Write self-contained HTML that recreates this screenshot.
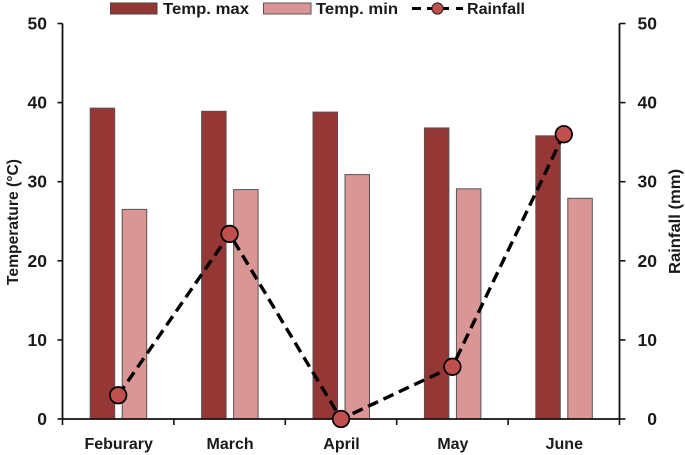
<!DOCTYPE html>
<html>
<head>
<meta charset="utf-8">
<style>
html,body{margin:0;padding:0;background:#fff;width:685px;height:455px;overflow:hidden}
svg{display:block;filter:blur(0.35px)}
text{font-family:"Liberation Sans",sans-serif;font-weight:bold;fill:#1a1a1a}
</style>
</head>
<body>
<svg id="chart" xmlns="http://www.w3.org/2000/svg" width="685" height="455" viewBox="0 0 685 455"></svg>
<script>
const categories = ["Feburary", "March", "April", "May", "June"];
const tempMax = [39.3, 38.9, 38.8, 36.8, 35.8];
const tempMin = [26.5, 29.0, 30.9, 29.1, 27.9];
const rainfall = [3.0, 23.4, 0.0, 6.6, 36.0];
const tickLabels = [0, 10, 20, 30, 40, 50];

const NS = "http://www.w3.org/2000/svg";
const svg = document.getElementById("chart");
const L = 62.5, R = 619.5, T = 23.5, B = 419;
const yMax = 50;
const y = v => B - (v / yMax) * (B - T);
const band = (R - L) / categories.length;
const xc = i => L + band * (i + 0.5);

function mk(tag, attrs, text) {
  const el = document.createElementNS(NS, tag);
  for (const k in attrs) el.setAttribute(k, attrs[k]);
  if (text !== undefined) el.textContent = text;
  svg.appendChild(el);
  return el;
}

// bars
categories.forEach((c, i) => {
  const a = mk("rect", {x: xc(i) - 28, y: y(tempMax[i]), width: 24.5, height: B - y(tempMax[i]), fill: "#953735", stroke: "#555", "stroke-width": 1});
  
  
  const b = mk("rect", {x: xc(i) + 4, y: y(tempMin[i]), width: 24.5, height: B - y(tempMin[i]), fill: "#d99694", stroke: "#555", "stroke-width": 1});
  
  
});

// axes
const axes = mk("path", {d: `M${L} ${T}V${B}M${R} ${T}V${B}M${L} ${B}H${R}`, fill: "none", stroke: "#111", "stroke-width": 1.8});



// y ticks and labels
tickLabels.forEach(t => {
  const tl = mk("line", {x1: L - 5, x2: L, y1: y(t), y2: y(t), stroke: "#111", "stroke-width": 1.6});
  
  
  const tr = mk("line", {x1: R, x2: R + 6, y1: y(t), y2: y(t), stroke: "#111", "stroke-width": 1.6});
  
  
  const ll = mk("text", {x: 47, y: y(t) + 6, "text-anchor": "end", "font-size": 17.5}, t);
  
  
  const lr = mk("text", {x: 657, y: y(t) + 6, "text-anchor": "end", "font-size": 17.5}, t);
  
  
});

// x ticks
for (let i = 0; i <= categories.length; i++) {
  const t = mk("line", {x1: L + band * i, x2: L + band * i, y1: B, y2: B + 6, stroke: "#111", "stroke-width": 1.6});
  
  
}

// x labels
categories.forEach((c, i) => {
  const t = mk("text", {x: xc(i) + 0.5, y: 449, "text-anchor": "middle", "font-size": 16}, c);
  
  
});

// rainfall line
const rainPts = rainfall.map((v, i) => `${xc(i)},${y(v)}`).join(" ");
const line = mk("polyline", {points: rainPts, fill: "none", stroke: "#000", "stroke-width": 3.4, "stroke-dasharray": "11 6"});


rainfall.forEach((v, i) => {
  const p = mk("circle", {cx: xc(i), cy: y(v), r: 8.3, fill: "#c0504d", stroke: "#000", "stroke-width": 1.7});
  
  
});

// axis titles
const yt = mk("text", {transform: "translate(18,222) rotate(-90)", "text-anchor": "middle", "font-size": 15.5, textLength: 126, lengthAdjust: "spacingAndGlyphs"}, "Temperature (°C)");


const yr = mk("text", {transform: "translate(680,221.5) rotate(-90)", "text-anchor": "middle", "font-size": 15.5, textLength: 105, lengthAdjust: "spacingAndGlyphs"}, "Rainfall (mm)");



// legend
const s1 = mk("rect", {x: 110.5, y: 3, width: 46.5, height: 11, fill: "#953735", stroke: "#444", "stroke-width": 1});


const l1 = mk("text", {x: 163, y: 14, "font-size": 16, textLength: 86, lengthAdjust: "spacingAndGlyphs"}, "Temp. max");


const s2 = mk("rect", {x: 263.5, y: 3, width: 47.5, height: 11, fill: "#d99694", stroke: "#555", "stroke-width": 1});


const l2 = mk("text", {x: 316, y: 14, "font-size": 16, textLength: 82, lengthAdjust: "spacingAndGlyphs"}, "Temp. min");


const s3 = mk("path", {d: "M412 8.5H421M427 8.5H449M456 8.5H463", fill: "none", stroke: "#000", "stroke-width": 3});


const s4 = mk("circle", {cx: 437.5, cy: 8.5, r: 5.6, fill: "#c0504d", stroke: "#222", "stroke-width": 1});


const l3 = mk("text", {x: 467, y: 14, "font-size": 16, textLength: 58, lengthAdjust: "spacingAndGlyphs"}, "Rainfall");


</script>
</body>
</html>
